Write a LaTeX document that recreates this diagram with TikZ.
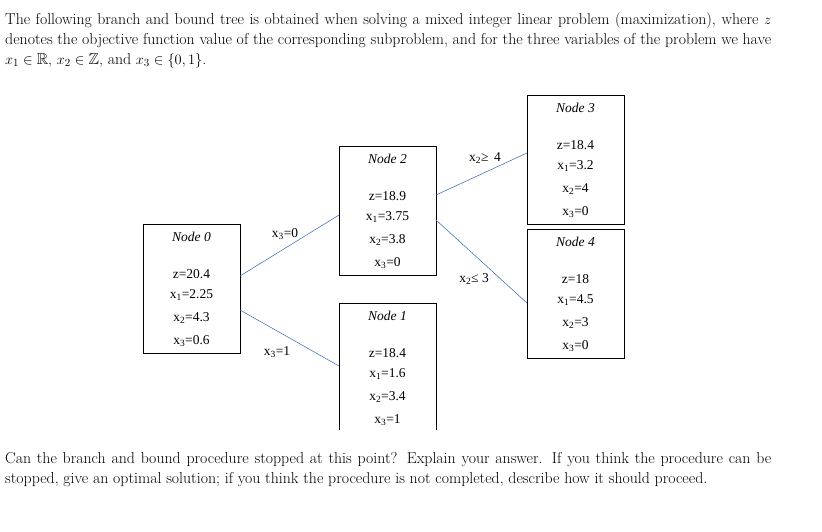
\documentclass[tikz,border=0pt]{standalone}
\usepackage{amssymb}
\usepackage{fontspec}
\newfontfamily\lib{Liberation Serif}
\begin{document}
\begin{tikzpicture}[x=1pt,y=-1pt,
  box/.style={draw,line width=0.9pt,minimum width=97pt,anchor=north west,inner sep=0pt},
  t/.style={font=\lib\fontsize{13.5}{15}\selectfont,inner sep=0pt},
  edge/.style={draw={rgb,255:red,50;green,100;blue,180},line width=0.5pt},
  para/.style={anchor=north west,text width=766pt,align=justify,inner sep=0pt,font=\fontsize{15.8}{20}\selectfont}]
\useasboundingbox (0,0) rectangle (822,532);
\node[para] (p1) at (5,12) {The following branch and bound tree is obtained when solving a mixed integer linear problem (maxi\-mization), where $z$ denotes the objective function value of the corresponding subproblem, and for the three variables of the problem we have $x_1\in\mathbb{R}$, $x_2\in\mathbb{Z}$, and $x_3\in\{0,1\}$.};
\node[para] (p2) at (5,452) {Can the branch and bound procedure stopped at this point? Explain your answer. If you think the procedure can be stopped, give an optimal solution; if you think the procedure is not completed, describe how it should proceed.};
\newcommand{\bnode}[8]{%
  \node[box,minimum height=129pt] (#1) at (#2,#3) {};
  \node[t] at (#2+48.5,#3+13) {\itshape #4};
  \node[t] at (#2+48.5,#3+50) {z=#5};
  \node[t] at (#2+48.5,#3+71) {x\textsubscript{1}=#6};
  \node[t] at (#2+48.5,#3+94) {x\textsubscript{2}=#7};
  \node[t] at (#2+48.5,#3+117) {x\textsubscript{3}=#8};}
\bnode{n0}{143}{224}{Node 0}{20.4}{2.25}{4.3}{0.6}
\bnode{n2}{339}{146}{Node 2}{18.9}{3.75}{3.8}{0}
\bnode{n3}{527}{95}{Node 3}{18.4}{3.2}{4}{0}
\bnode{n4}{527}{229}{Node 4}{18}{4.5}{3}{0}
\bnode{n1}{339}{303}{Node 1}{18.4}{1.6}{3.4}{1}
\fill[white] (337,430) rectangle (438,434);
\coordinate (a0) at (240,276); \coordinate (a2) at (339,215);
\coordinate (b0) at (240,310); \coordinate (b1) at (339,366);
\coordinate (c2) at (436,195); \coordinate (c3) at (527,153);
\coordinate (d2) at (436,220); \coordinate (d4) at (527,303);
\draw[edge] (a0) -- (a2); \draw[edge] (b0) -- (b1);
\draw[edge] (c2) -- (c3); \draw[edge] (d2) -- (d4);
\node[t] at (285,234) {x\textsubscript{3}=0};
\node[t] at (277,352) {x\textsubscript{3}=1};
\node[t] at (485,158) {x\textsubscript{2}≥ \,4};
\node[t] at (474,279) {x\textsubscript{2}≤ 3};
\end{tikzpicture}
\end{document}
